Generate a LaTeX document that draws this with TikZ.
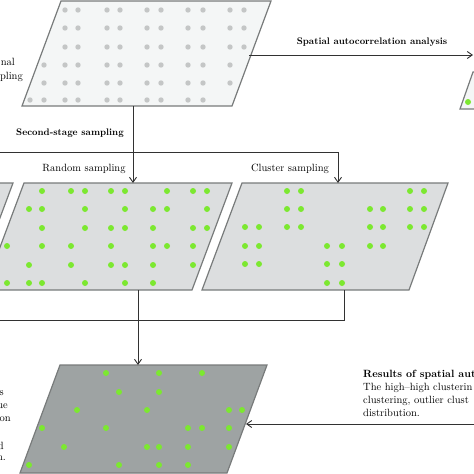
\documentclass[tikz,border=0pt]{standalone}
\usetikzlibrary{arrows.meta}
\definecolor{topfill}{RGB}{244,246,246}
\definecolor{midfill}{RGB}{220,222,223}
\definecolor{botfill}{RGB}{158,163,163}
\definecolor{edgegray}{RGB}{120,123,123}
\definecolor{dotgray}{RGB}{196,198,198}
\definecolor{dotgreen}{RGB}{124,232,48}
\definecolor{linkgray}{RGB}{50,50,50}
\tikzset{
  plane/.style={draw=edgegray, line width=1.2pt},
  link/.style={draw=linkgray, line width=0.9pt},
  tip/.style={-{Straight Barb[length=5pt,width=7pt]}},
  boldlabel/.style={font=\fontsize{9.5}{11}\selectfont\bfseries, inner sep=0pt},
  plainlabel/.style={font=\fontsize{10.5}{13}\selectfont, inner sep=0pt}
}
\begin{document}
\begin{tikzpicture}[x=1pt,y=-1pt]
    \useasboundingbox (0,0) rectangle (474,474);
    \clip (0,0) rectangle (474,474);
    %piani di campionamento
    \draw[plane, fill=topfill] (61,1) -- (271,1) -- (232,106) -- (22,106) -- cycle;
    \draw[plane, fill=topfill] (473,72) -- (490,72) -- (490,109) -- (460,109) -- cycle;
    \draw[plane, fill=midfill] (-40,183) -- (13,183) -- (-27,290) -- (-80,290) -- cycle;
    \draw[plane, fill=midfill] (24,183) -- (232,183) -- (192,290) -- (-16,290) -- cycle;
    \draw[plane, fill=midfill] (242,183) -- (448,183) -- (409,290) -- (202,290) -- cycle;
    \draw[plane, fill=botfill] (60,365) -- (267,365) -- (227,473) -- (20,473) -- cycle;
    %punti
    \foreach \y/\xs in {10/{65,78,107,120,147,161,188,203,230,244},
                        28/{65,78,107,120,147,161,188,203,230,244},
                        47/{65,78,107,120,147,161,188,203,230,244},
                        65/{44,65,78,107,120,147,161,188,203,230},
                        83/{44,65,78,107,120,147,161,188,203,230},
                        100/{30,44,65,78,107,120,147,161,188,203}} {
      \foreach \x in \xs { \fill[dotgray] (\x,\y) circle (2.7pt); }
    }
    \foreach \y/\xs in {191/{42,71,85,111,125,167,193,207},
                        209/{29,42,85,125,153,167,207},
                        228/{42,85,111,125,153,193,207},
                        246/{7,42,71,111,153,167,193},
                        265/{29,71,111,125,153,193},
                        283/{7,29,42,85,125,153}} {
      \foreach \x in \xs { \fill[dotgreen] (\x,\y) circle (3pt); }
    }
    \foreach \y/\xs in {191/{287,301,410,424},
                        209/{287,301,370,383,410,424},
                        227/{245,259,287,301,370,383,410,424},
                        246/{245,259,327,342,370,383},
                        264/{245,259,327,342},
                        283/{327,342}} {
      \foreach \x in \xs { \fill[dotgreen] (\x,\y) circle (3pt); }
    }
    \foreach \y/\xs in {373/{106,159,202},
                        392/{119,159},
                        410/{77,147,229,242},
                        428/{42,106,188,202,229},
                        447/{64,147,159,188,229},
                        465/{29,119,159,188}} {
      \foreach \x in \xs { \fill[dotgreen] (\x,\y) circle (3pt); }
    }
    \fill[dotgreen] (468,102) circle (3pt);
    %punti di collegamento
    \coordinate (topS) at (133,106);
    \coordinate (topE) at (249,55);
    \coordinate (autoW) at (473,55);
    \coordinate (splitW) at (-5,152);
    \coordinate (splitE) at (338,152);
    \coordinate (randN) at (133,183);
    \coordinate (clusN) at (338,183);
    \coordinate (randS) at (138,290);
    \coordinate (clusS) at (344,290);
    \coordinate (joinE) at (344,320);
    \coordinate (joinW) at (-5,320);
    \coordinate (resN) at (138,365);
    \coordinate (resE) at (246,424);
    \coordinate (textW) at (480,424);
    %collegamenti
    \draw[link, tip] (topE) -- (autoW);
    \draw[link, tip] (topS) -- (randN);
    \draw[link, tip] (splitW) -- (splitE) -- (clusN);
    \draw[link, tip] (randS) -- (resN);
    \draw[link] (clusS) -- (joinE) -- (joinW);
    \draw[link, tip] (textW) -- (resE);
    %etichette
    \node[boldlabel] (autoLab) at (372,42) {Spatial autocorrelation analysis};
    \node[boldlabel] (stageLab) at (70,133) {Second-stage sampling};
    \node[plainlabel] (randLab) at (84,169) {Random sampling};
    \node[plainlabel] (clusLab) at (290,169) {Cluster sampling};
    \node[plainlabel, anchor=east] (sysA) at (15,62) {nal};
    \node[plainlabel, anchor=east] (sysB) at (23,77) {pling};
    \node[plainlabel, anchor=east] (noteA) at (4,393) {s};
    \node[plainlabel, anchor=east] (noteB) at (8,406) {ue};
    \node[plainlabel, anchor=east] (noteC) at (11,419) {on};
    \node[plainlabel, anchor=east] (noteD) at (4,446) {d};
    \node[plainlabel, anchor=east] (noteE) at (6,458) {n.};
    \node[plainlabel, anchor=north west, align=left] (resText) at (363,370)
      {\textbf{Results of spatial auto}\\The high--high clusterin\\clustering, outlier clust\\distribution.};
\end{tikzpicture}
\end{document}
